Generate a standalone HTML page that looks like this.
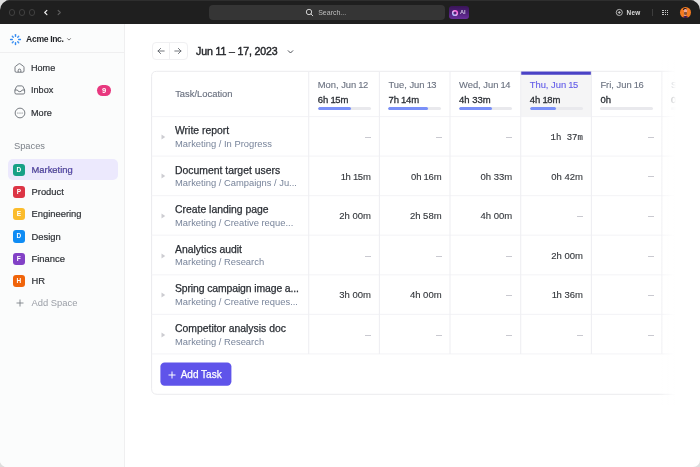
<!DOCTYPE html>
<html>
<head>
<meta charset="utf-8">
<title>Timesheet</title>
<style>
*{box-sizing:border-box;margin:0;padding:0}
html,body{width:700px;height:467px;overflow:hidden;background:#dedede;font-family:"Liberation Sans",sans-serif;}
#win{will-change:transform;position:absolute;left:0;top:0;width:700px;height:467px;border-radius:10px 10px 7px 7px;overflow:hidden;background:#fff;}
.a{position:absolute;white-space:nowrap;line-height:1;}
#bar{position:absolute;left:0;top:0;width:700px;height:23.6px;background:#1f1f1f;box-shadow:inset 0 1px 0 #2e2e2e;}
#side{position:absolute;left:0;top:23.6px;width:125px;height:444px;background:#fbfcfc;border-right:1px solid #efeff0;}
.nav{font-size:9.1px;color:#2f3237;-webkit-text-stroke:0.2px #2f3237;}
.sp{font-size:9.4px;color:#2f3237;-webkit-text-stroke:0.2px #2f3237;}
.ic{position:absolute;width:12.3px;height:12.3px;border-radius:3px;color:#fff;font-size:6.5px;font-weight:bold;text-align:center;line-height:12px;}
.dh{font-size:9.4px;color:#6b7280;-webkit-text-stroke:0.12px #6b7280;}
.dt{font-size:9.5px;color:#2a2e34;-webkit-text-stroke:0.28px #2a2e34;}
.pb{position:absolute;height:2.8px;width:53px;border-radius:2px;background:#e9e9ed;overflow:hidden;}
.pb i{display:block;height:2.8px;background:#7a90f8;border-radius:2px;}
.tn{font-size:10.4px;color:#2a2e34;-webkit-text-stroke:0.25px #2a2e34;}
.ts{font-size:9.4px;color:#78849a;}
.v{font-size:9.5px;color:#35383d;text-align:right;-webkit-text-stroke:0.12px #35383d;}
.dash{position:absolute;width:5.9px;height:1px;background:#c9c9d0;}
.o{margin:0 -0.5px;}
.tri{position:absolute;width:0;height:0;border-left:3.8px solid #cbcbd0;border-top:2.6px solid transparent;border-bottom:2.6px solid transparent;}
</style>
</head>
<body>
<div id="win">
<div id="bar">
<div style="position:absolute;left:9.1px;top:9.3px;width:6.4px;height:6.4px;border-radius:50%;border:1px solid #414141"></div>
<div style="position:absolute;left:18.8px;top:9.3px;width:6.4px;height:6.4px;border-radius:50%;border:1px solid #414141"></div>
<div style="position:absolute;left:28.6px;top:9.3px;width:6.4px;height:6.4px;border-radius:50%;border:1px solid #414141"></div>
<svg class="a" style="left:41.6px;top:8px" width="8" height="9" viewBox="0 0 8 9"><path d="M4.9 2.3 L2.7 4.5 L4.9 6.7" fill="none" stroke="#f0f0f0" stroke-width="1.15" stroke-linecap="round" stroke-linejoin="round"/></svg>
<svg class="a" style="left:55.3px;top:8px" width="8" height="9" viewBox="0 0 8 9"><path d="M3.1 2.3 L5.3 4.5 L3.1 6.7" fill="none" stroke="#5e5e5e" stroke-width="1.1" stroke-linecap="round" stroke-linejoin="round"/></svg>
<div style="position:absolute;left:209px;top:5px;width:236px;height:14.5px;border-radius:4px;background:#353535"></div>
<svg class="a" style="left:305px;top:8px" width="9" height="9" viewBox="0 0 9 9"><circle cx="4" cy="4" r="2.7" fill="none" stroke="#cfcfcf" stroke-width="1"/><path d="M6 6 L7.8 7.8" stroke="#cfcfcf" stroke-width="1" stroke-linecap="round"/></svg>
<div class="a" style="left:318.2px;top:8.9px;font-size:7px;color:#bdbdbd">Search...</div>
<div style="position:absolute;left:449px;top:5.8px;width:20px;height:13.1px;border-radius:3px;background:linear-gradient(180deg,#3a1559 0%,#4d1f78 50%,#6a2f9b 100%)"></div>
<svg class="a" style="left:451px;top:8.5px" width="8" height="8" viewBox="0 0 8 8"><defs><linearGradient id="rg" x1="1" y1="0" x2="0" y2="1"><stop offset="0" stop-color="#ff4fd8"/><stop offset="0.5" stop-color="#f7a8ee"/><stop offset="1" stop-color="#8fc4ff"/></linearGradient></defs><circle cx="4" cy="4" r="2.35" fill="none" stroke="url(#rg)" stroke-width="1.5"/></svg>
<div class="a" style="left:460px;top:9.7px;font-size:5.7px;font-weight:bold;color:#cbbde0">AI</div>
<svg class="a" style="left:615px;top:8px" width="9" height="9" viewBox="0 0 9 9"><circle cx="4.3" cy="4.45" r="3.05" fill="none" stroke="#cecece" stroke-width="0.85"/><path d="M4.3 3 V5.9 M2.85 4.45 H5.75" stroke="#cecece" stroke-width="0.85"/></svg>
<div class="a" style="left:626.5px;top:10.1px;font-size:6.4px;letter-spacing:0.3px;font-weight:bold;color:#dcdcdc">New</div>
<div style="position:absolute;left:652px;top:8.5px;width:1px;height:7.5px;background:#3d3d3d"></div>
<div style="position:absolute;left:662.30px;top:9.50px;width:1.3px;height:1.2px;background:#c8c8c8"></div>
<div style="position:absolute;left:664.75px;top:9.50px;width:1.3px;height:1.2px;background:#c8c8c8"></div>
<div style="position:absolute;left:667.20px;top:9.50px;width:1.3px;height:1.2px;background:#c8c8c8"></div>
<div style="position:absolute;left:662.30px;top:11.80px;width:1.3px;height:1.2px;background:#c8c8c8"></div>
<div style="position:absolute;left:664.75px;top:11.80px;width:1.3px;height:1.2px;background:#c8c8c8"></div>
<div style="position:absolute;left:667.20px;top:11.80px;width:1.3px;height:1.2px;background:#c8c8c8"></div>
<div style="position:absolute;left:662.30px;top:14.10px;width:1.3px;height:1.2px;background:#c8c8c8"></div>
<div style="position:absolute;left:664.75px;top:14.10px;width:1.3px;height:1.2px;background:#c8c8c8"></div>
<div style="position:absolute;left:667.20px;top:14.10px;width:1.3px;height:1.2px;background:#c8c8c8"></div>
<div style="position:absolute;left:679.7px;top:6.8px;width:11.1px;height:11.1px;border-radius:50%;background:#f47b20;overflow:hidden"><div style="position:absolute;left:3.2px;top:8.9px;width:5.2px;height:4px;border-radius:2px 2px 0 0;background:#3b1a56"></div><div style="position:absolute;left:4.8px;top:7.6px;width:1.8px;height:1.8px;background:#e39a86"></div><div style="position:absolute;left:3.8px;top:1.3px;width:3.7px;height:2.2px;border-radius:1.8px 1.8px 0 0;background:#23161a"></div><div style="position:absolute;left:4px;top:2.3px;width:3.3px;height:4.2px;border-radius:1.2px;background:#eaa496"></div><div style="position:absolute;left:4.1px;top:5.5px;width:3.1px;height:2.7px;border-radius:0.8px 0.8px 1.6px 1.6px;background:#86523c"></div></div>
</div>
<div id="side"></div>
<svg class="a" style="left:8.86px;top:32.5px" width="13" height="13" viewBox="0 0 13 13"><path d="M6.50 3.30 L6.50 1.60" stroke="#3389f0" stroke-width="1.45" stroke-linecap="round"/><path d="M8.76 4.24 L9.68 3.32" stroke="#3f93f3" stroke-width="1.45" stroke-linecap="round"/><path d="M9.70 6.50 L11.40 6.50" stroke="#3389f0" stroke-width="1.45" stroke-linecap="round"/><path d="M8.76 8.76 L9.68 9.68" stroke="#3f93f3" stroke-width="1.45" stroke-linecap="round"/><path d="M6.50 9.70 L6.50 11.40" stroke="#3389f0" stroke-width="1.45" stroke-linecap="round"/><path d="M4.24 8.76 L3.32 9.68" stroke="#3f93f3" stroke-width="1.45" stroke-linecap="round"/><path d="M3.30 6.50 L1.60 6.50" stroke="#3389f0" stroke-width="1.45" stroke-linecap="round"/><path d="M4.24 4.24 L3.32 3.32" stroke="#3f93f3" stroke-width="1.45" stroke-linecap="round"/></svg>
<div class="a" id="acme" style="left:26.1px;top:35.2px;font-size:8.6px;letter-spacing:-0.35px;font-weight:bold;color:#26282c">Acme Inc.</div>
<svg class="a" style="left:65.7px;top:36.8px" width="6" height="5" viewBox="0 0 6 5"><path d="M1.5 1.6 L3 3.1 L4.5 1.6" fill="none" stroke="#4a4a4a" stroke-width="0.75" stroke-linecap="round" stroke-linejoin="round"/></svg>
<div style="position:absolute;left:0;top:51.9px;width:125px;height:1px;background:#efeff0"></div>
<svg class="a" style="left:13.7px;top:63.1px" width="11" height="10" viewBox="0 0 11 10"><path d="M1 4.3 Q1 3.7 1.5 3.3 L4.8 0.9 Q5.5 0.4 6.2 0.9 L9.5 3.3 Q10 3.7 10 4.3 V8 Q10 9.2 8.8 9.2 H2.2 Q1 9.2 1 8 Z" fill="none" stroke="#5f646b" stroke-width="0.85" stroke-linejoin="round"/><path d="M4.2 9.1 V7.3 Q4.2 6.1 5.5 6.1 Q6.8 6.1 6.8 7.3 V9.1" fill="none" stroke="#5f646b" stroke-width="0.85"/></svg>
<div class="a nav" id="n1" style="left:31px;top:63.9px">Home</div>
<svg class="a" style="left:13.7px;top:85.4px" width="12" height="10" viewBox="0 0 12 10"><path d="M0.9 5 L2.4 1.8 Q2.8 0.9 3.7 0.9 H7.8 Q8.7 0.9 9.1 1.8 L10.6 5 V7.7 Q10.6 9 9.3 9 H2.2 Q0.9 9 0.9 7.7 Z" fill="none" stroke="#5f646b" stroke-width="0.85" stroke-linejoin="round"/><path d="M0.9 5 H3.4 Q3.9 6.7 5.75 6.7 Q7.6 6.7 8.1 5 H10.6" fill="none" stroke="#5f646b" stroke-width="0.85" stroke-linejoin="round"/></svg>
<div class="a nav" id="n2" style="left:31px;top:86.0px">Inbox</div>
<div style="position:absolute;left:97.2px;top:85px;width:13.9px;height:10.8px;border-radius:5.4px;background:#e8387f"></div>
<div class="a" style="left:101.9px;top:86.8px;font-size:7.6px;font-weight:bold;color:#fff">9</div>
<svg class="a" style="left:13.5px;top:106.9px" width="12" height="12" viewBox="0 0 12 12"><circle cx="6" cy="6" r="4.85" fill="none" stroke="#5f646b" stroke-width="0.85"/><circle cx="3.9" cy="6" r="0.6" fill="#5f646b"/><circle cx="6" cy="6" r="0.6" fill="#5f646b"/><circle cx="8.1" cy="6" r="0.6" fill="#5f646b"/></svg>
<div class="a nav" id="n3" style="left:31px;top:108.5px">More</div>
<div class="a" id="spaces" style="left:14px;top:141.6px;font-size:9.3px;color:#7b8088">Spaces</div>
<div style="position:absolute;left:7.5px;top:159px;width:110.5px;height:21px;border-radius:5px;background:#ece9fd"></div>
<div class="ic" style="left:12.7px;top:163.6px;background:#17a086">D</div>
<div class="a sp" id="s0" style="left:31.5px;top:164.8px;color:#5b46d6;">Marketing</div>
<div class="ic" style="left:12.7px;top:185.8px;background:#dc3545">P</div>
<div class="a sp" id="s1" style="left:31.5px;top:187.0px;">Product</div>
<div class="ic" style="left:12.7px;top:208.1px;background:#fbbc2c">E</div>
<div class="a sp" id="s2" style="left:31.5px;top:209.3px;">Engineering</div>
<div class="ic" style="left:12.7px;top:230.3px;background:#0f8cf4">D</div>
<div class="a sp" id="s3" style="left:31.5px;top:231.5px;">Design</div>
<div class="ic" style="left:12.7px;top:252.6px;background:#8241c6">F</div>
<div class="a sp" id="s4" style="left:31.5px;top:253.8px;">Finance</div>
<div class="ic" style="left:12.7px;top:274.8px;background:#f0640a">H</div>
<div class="a sp" id="s5" style="left:31.5px;top:276.0px;">HR</div>
<svg class="a" style="left:15.6px;top:299.1px" width="8" height="8" viewBox="0 0 8 8"><path d="M4 0.5 V7.5 M0.5 4 H7.5" stroke="#70747b" stroke-width="0.8"/></svg>
<div class="a sp" id="s6" style="left:31.5px;top:298.2px;color:#9a9ea6;-webkit-text-stroke:0">Add Space</div>
<div style="position:absolute;left:152px;top:42.3px;width:35.5px;height:18.2px;border:1px solid #f0f0f2;border-radius:4px;background:#fff"></div>
<div style="position:absolute;left:169px;top:42.3px;width:1px;height:18.2px;background:#f0f0f2"></div>
<svg class="a" style="left:156.6px;top:47.4px" width="8" height="8" viewBox="0 0 8 8"><path d="M7.2 4 H1 M3.6 1.4 L1 4 L3.6 6.6" fill="none" stroke="#62666d" stroke-width="0.9" stroke-linecap="round" stroke-linejoin="round"/></svg>
<svg class="a" style="left:174.4px;top:47.4px" width="8" height="8" viewBox="0 0 8 8"><path d="M0.8 4 H7 M4.4 1.4 L7 4 L4.4 6.6" fill="none" stroke="#62666d" stroke-width="0.9" stroke-linecap="round" stroke-linejoin="round"/></svg>
<div class="a" id="title" style="left:196px;top:46.2px;font-size:10.6px;letter-spacing:-0.15px;-webkit-text-stroke:0.42px #26282c;color:#26282c;">Jun 11 – 17, 2023</div>
<svg class="a" style="left:287.3px;top:48.8px" width="7" height="6" viewBox="0 0 7 6"><path d="M1.2 1.7 L3.5 4 L5.8 1.7" fill="none" stroke="#3a3e45" stroke-width="0.9" stroke-linecap="round" stroke-linejoin="round"/></svg>
<svg class="a" style="left:0;top:0" width="700" height="467" viewBox="0 0 700 467"><path d="M156.6 71.3 H720 V394.3 H157.1 Q151.6 394.3 151.6 388.8 V76.3 Q151.6 71.3 156.6 71.3 Z" fill="#fff" stroke="#ebebee" stroke-width="1"/><rect x="520.7" y="71.3" width="70.7" height="45.25" fill="#f5f5f6"/><rect x="520.8" y="71.55" width="70.9" height="3.2" fill="#4a42c6"/><path d="M151.6 116.55 H720" stroke="#f2f2f5" stroke-width="0.95"/><path d="M151.6 156.11 H720" stroke="#f2f2f5" stroke-width="0.95"/><path d="M151.6 195.67 H720" stroke="#f2f2f5" stroke-width="0.95"/><path d="M151.6 235.23 H720" stroke="#f2f2f5" stroke-width="0.95"/><path d="M151.6 274.79 H720" stroke="#f2f2f5" stroke-width="0.95"/><path d="M151.6 314.35 H720" stroke="#f2f2f5" stroke-width="0.95"/><path d="M151.6 353.91 H720" stroke="#f2f2f5" stroke-width="0.95"/><path d="M308.7 71.3 V353.91" stroke="#efeff3" stroke-width="1.1"/><path d="M379.4 71.3 V353.91" stroke="#efeff3" stroke-width="1.1"/><path d="M450.0 71.3 V353.91" stroke="#efeff3" stroke-width="1.1"/><path d="M520.7 71.3 V353.91" stroke="#efeff3" stroke-width="1.1"/><path d="M591.4 71.3 V353.91" stroke="#efeff3" stroke-width="1.1"/><path d="M661.9 71.3 V353.91" stroke="#efeff3" stroke-width="1.1"/></svg>
<div class="a" id="tl" style="left:175.2px;top:88.9px;font-size:9.4px;color:#6b7280;-webkit-text-stroke:0.15px #6b7280">Task/Location</div>
<div class="a dh" id="d0" style="left:317.7px;top:80.3px;">Mon, Jun <span class="o">1</span>2</div>
<div class="a dt" id="t0" style="left:317.7px;top:95.3px">6h <span class="o">1</span>5m</div>
<div class="pb" style="left:317.7px;top:107.2px"><i style="width:62%"></i></div>
<div class="a dh" id="d1" style="left:388.4px;top:80.3px;">Tue, Jun <span class="o">1</span>3</div>
<div class="a dt" id="t1" style="left:388.4px;top:95.3px">7h <span class="o">1</span>4m</div>
<div class="pb" style="left:388.4px;top:107.2px"><i style="width:75%"></i></div>
<div class="a dh" id="d2" style="left:459.0px;top:80.3px;">Wed, Jun <span class="o">1</span>4</div>
<div class="a dt" id="t2" style="left:459.0px;top:95.3px">4h 33m</div>
<div class="pb" style="left:459.0px;top:107.2px"><i style="width:62.5%"></i></div>
<div class="a dh" id="d3" style="left:529.7px;top:80.3px;color:#635ce8;-webkit-text-stroke:0.12px #635ce8;">Thu, Jun <span class="o">1</span>5</div>
<div class="a dt" id="t3" style="left:529.7px;top:95.3px">4h <span class="o">1</span>8m</div>
<div class="pb" style="left:529.7px;top:107.2px"><i style="width:50%"></i></div>
<div class="a dh" id="d4" style="left:600.4px;top:80.3px;">Fri, Jun <span class="o">1</span>6</div>
<div class="a dt" id="t4" style="left:600.4px;top:95.3px">0h</div>
<div class="pb" style="left:600.4px;top:107.2px"><i style="width:0%"></i></div>
<div class="a dh" id="d5" style="left:670.9px;top:80.3px;">Sat, Jun <span class="o">1</span>7</div>
<div class="a dt" id="t5" style="left:670.9px;top:95.3px">0h</div>
<div class="pb" style="left:670.9px;top:107.2px"><i style="width:0%"></i></div>
<svg class="a" style="left:161px;top:133.8px" width="5" height="6" viewBox="0 0 5 6"><path d="M0.5 0.5 L4.3 3 L0.5 5.5 Z" fill="#cdcdd2"/></svg>
<div class="a tn" id="tn0" style="left:175.0px;top:126.1px;">Write report</div>
<div class="a ts" id="ts0" style="left:175.0px;top:138.8px">Marketing / In Progress</div>
<div class="dash" style="left:365.0px;top:136.8px"></div>
<div class="dash" style="left:435.7px;top:136.8px"></div>
<div class="dash" style="left:506.3px;top:136.8px"></div>
<div class="a v" id="v03" style="left:522.9px;width:60px;top:131.9px;font-family:'Liberation Mono',monospace;font-size:9px;margin-top:2.2px;-webkit-text-stroke:0.15px #35383d;">1h&nbsp;37m</div>
<div class="dash" style="left:647.7px;top:136.8px"></div>
<div class="dash" style="left:718.2px;top:136.8px"></div>
<svg class="a" style="left:161px;top:173.4px" width="5" height="6" viewBox="0 0 5 6"><path d="M0.5 0.5 L4.3 3 L0.5 5.5 Z" fill="#cdcdd2"/></svg>
<div class="a tn" id="tn1" style="left:175.0px;top:165.7px;">Document target users</div>
<div class="a ts" id="ts1" style="left:175.0px;top:178.3px">Marketing / Campaigns / Ju...</div>
<div class="a v" id="v10" style="left:310.9px;width:60px;top:171.5px;"><span class="o">1</span>h <span class="o">1</span>5m</div>
<div class="a v" id="v11" style="left:381.6px;width:60px;top:171.5px;">0h <span class="o">1</span>6m</div>
<div class="a v" id="v12" style="left:452.2px;width:60px;top:171.5px;">0h 33m</div>
<div class="a v" id="v13" style="left:522.9px;width:60px;top:171.5px;">0h 42m</div>
<div class="dash" style="left:647.7px;top:176.4px"></div>
<div class="dash" style="left:718.2px;top:176.4px"></div>
<svg class="a" style="left:161px;top:213.0px" width="5" height="6" viewBox="0 0 5 6"><path d="M0.5 0.5 L4.3 3 L0.5 5.5 Z" fill="#cdcdd2"/></svg>
<div class="a tn" id="tn2" style="left:175.0px;top:205.3px;">Create landing page</div>
<div class="a ts" id="ts2" style="left:175.0px;top:217.9px">Marketing / Creative reque...</div>
<div class="a v" id="v20" style="left:310.9px;width:60px;top:211.1px;">2h 00m</div>
<div class="a v" id="v21" style="left:381.6px;width:60px;top:211.1px;">2h 58m</div>
<div class="a v" id="v22" style="left:452.2px;width:60px;top:211.1px;">4h 00m</div>
<div class="dash" style="left:577.0px;top:216.0px"></div>
<div class="dash" style="left:647.7px;top:216.0px"></div>
<div class="dash" style="left:718.2px;top:216.0px"></div>
<svg class="a" style="left:161px;top:252.5px" width="5" height="6" viewBox="0 0 5 6"><path d="M0.5 0.5 L4.3 3 L0.5 5.5 Z" fill="#cdcdd2"/></svg>
<div class="a tn" id="tn3" style="left:175.0px;top:244.8px;">Analytics audit</div>
<div class="a ts" id="ts3" style="left:175.0px;top:257.4px">Marketing / Research</div>
<div class="dash" style="left:365.0px;top:255.5px"></div>
<div class="dash" style="left:435.7px;top:255.5px"></div>
<div class="dash" style="left:506.3px;top:255.5px"></div>
<div class="a v" id="v33" style="left:522.9px;width:60px;top:250.6px;">2h 00m</div>
<div class="dash" style="left:647.7px;top:255.5px"></div>
<div class="dash" style="left:718.2px;top:255.5px"></div>
<svg class="a" style="left:161px;top:292.1px" width="5" height="6" viewBox="0 0 5 6"><path d="M0.5 0.5 L4.3 3 L0.5 5.5 Z" fill="#cdcdd2"/></svg>
<div class="a tn" id="tn4" style="left:175.0px;top:284.4px;letter-spacing:-0.1px;">Spring campaign image a...</div>
<div class="a ts" id="ts4" style="left:175.0px;top:297.0px">Marketing / Creative reques...</div>
<div class="a v" id="v40" style="left:310.9px;width:60px;top:290.2px;">3h 00m</div>
<div class="a v" id="v41" style="left:381.6px;width:60px;top:290.2px;">4h 00m</div>
<div class="dash" style="left:506.3px;top:295.1px"></div>
<div class="a v" id="v43" style="left:522.9px;width:60px;top:290.2px;"><span class="o">1</span>h 36m</div>
<div class="dash" style="left:647.7px;top:295.1px"></div>
<div class="dash" style="left:718.2px;top:295.1px"></div>
<svg class="a" style="left:161px;top:331.7px" width="5" height="6" viewBox="0 0 5 6"><path d="M0.5 0.5 L4.3 3 L0.5 5.5 Z" fill="#cdcdd2"/></svg>
<div class="a tn" id="tn5" style="left:175.0px;top:324.0px;">Competitor analysis doc</div>
<div class="a ts" id="ts5" style="left:175.0px;top:336.6px">Marketing / Research</div>
<div class="dash" style="left:365.0px;top:334.7px"></div>
<div class="dash" style="left:435.7px;top:334.7px"></div>
<div class="dash" style="left:506.3px;top:334.7px"></div>
<div class="dash" style="left:577.0px;top:334.7px"></div>
<div class="dash" style="left:647.7px;top:334.7px"></div>
<div class="dash" style="left:718.2px;top:334.7px"></div>
<svg class="a" style="left:150px;top:355px" width="100" height="40" viewBox="0 0 100 40"><rect x="10.4" y="7.4" width="71" height="23.3" rx="4.2" fill="#5f54ea"/></svg>
<svg class="a" style="left:167.8px;top:370.6px" width="8" height="8" viewBox="0 0 8 8"><path d="M4 0.5 V7.5 M0.5 4 H7.5" stroke="#fff" stroke-width="1"/></svg>
<div class="a" id="addt" style="left:180.7px;top:369.7px;font-size:10px;color:#fff;-webkit-text-stroke:0.25px #fff">Add Task</div>
<div style="position:absolute;left:650px;top:60px;width:50px;height:345px;background:linear-gradient(90deg,rgba(255,255,255,0) 0,rgba(255,255,255,0) 16%,rgba(255,255,255,1) 52%,#fff 100%)"></div>
</div>
</body>
</html>
